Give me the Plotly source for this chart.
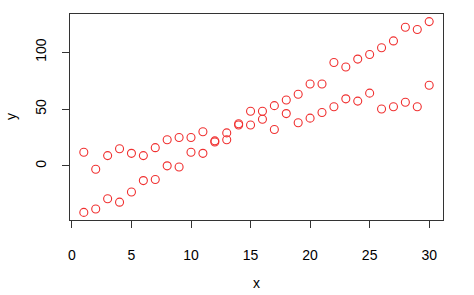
import plotly.graph_objects as go

x = list(range(1, 31))
series_a = [12, -3, 9, 15, 11, 9, 16, 23, 25, 25, 30, 21, 23, 36, 36,
            41, 32, 46, 38, 42, 47, 52, 59, 57, 64, 50, 52, 56, 52, 71]
series_b = [-41, -38, -29, -32, -23, -13, -12, 0, -1, 12, 11, 22, 29, 37, 48,
            48, 53, 58, 63, 72, 72, 91, 87, 94, 98, 104, 110, 122, 120, 127]
x_ticks = [0, 5, 10, 15, 20, 25, 30]
y_ticks = [0, 50, 100]

marker = dict(symbol="circle-open", size=8, color="#f03030", line=dict(width=1.1))
fig = go.Figure()
fig.add_trace(go.Scatter(x=x, y=series_a, mode="markers", marker=marker, showlegend=False))
fig.add_trace(go.Scatter(x=x, y=series_b, mode="markers", marker=marker, showlegend=False))

font = dict(family="Liberation Sans, Arial, sans-serif", size=14, color="black")
axis_common = dict(showgrid=False, zeroline=False, showline=True, mirror=True,
                   linecolor="#333333", linewidth=1, ticks="outside", ticklen=7,
                   tickcolor="#333333", tickfont=font)
fig.update_layout(
    width=474, height=295,
    margin=dict(l=70, r=31, t=14, b=75),
    plot_bgcolor="white", paper_bgcolor="white",
    xaxis=dict(range=[-0.16, 31.16], tickvals=x_ticks, ticklabelstandoff=15, **axis_common),
    yaxis=dict(range=[-47.7, 133.7], tickvals=y_ticks, tickangle=-90,
               ticklabelstandoff=10, **axis_common),
    annotations=[
        dict(text="x", xref="paper", yref="paper", x=0.5, y=0, yshift=-63,
             showarrow=False, font=font, xanchor="center", yanchor="middle"),
        dict(text="y", xref="paper", yref="paper", x=0, y=0.5, xshift=-59,
             showarrow=False, font=font, textangle=-90, xanchor="center", yanchor="middle"),
    ],
)
fig.write_html("out.html")
